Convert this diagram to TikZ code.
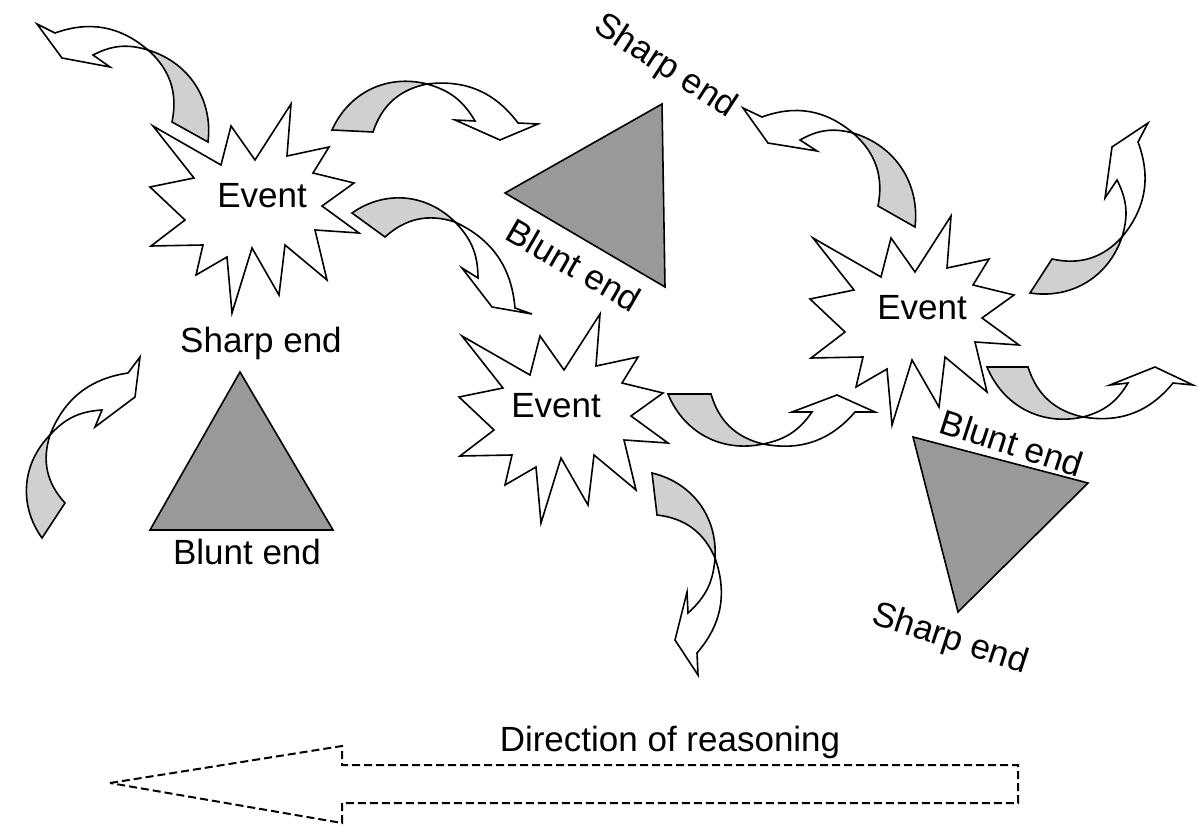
\documentclass[tikz,border=0pt]{standalone}
\usepackage{fontspec}
\setmainfont{Liberation Sans}
\definecolor{shaft}{HTML}{D0D0D0}
\definecolor{tri}{HTML}{999999}
\tikzset{
  cwA/.style={bend left=40}, cwB/.style={bend right=30},
  ccwA/.style={bend right=40}, ccwB/.style={bend left=30},
  cwC/.style={bend left=30}, cwD/.style={bend right=22},
  ccwC/.style={bend right=30}, ccwD/.style={bend left=22},
  ol/.style={draw=black,line width=1.6pt,line join=miter},
  lbl/.style={font=\fontsize{35}{40}\selectfont,inner sep=0pt}
}
% #1 cw/ccw, #2 F1(outer foot), #3 F2, #4 X, #5 Sout, #6 Wout, #7 T, #8 Win, #9 Sin
\newcommand\carr[9]{%
  \path[ol,fill=shaft] (#2) to[#1A] (#4) to[#1B] (#3) -- cycle;
  \path[ol,fill=white] (#4) to[#1C] (#5) -- (#6) -- (#7) -- (#8) -- (#9) to[#1D] (#4) -- cycle;
}
\newcommand\burst[3]{%
  \begin{scope}[shift={(#1,#2)}]
  \path[ol,fill=white] (153,126)--(221,165)--(231,126)--(255,160)--(291,104)--(287,156)--(329,147)--(313,173)--(354,183)--(322,206)--(359,233)--(315,230)--(327,280)--(285,245)--(279,295)--(252,248)--(232,313)--(227,257)--(196,275)--(203,245)--(151,246)--(185,220)--(150,187)--(194,178)--cycle;
  \end{scope}}
\begin{document}
\begin{tikzpicture}[x=1pt,y=-1pt]
\useasboundingbox (0,0) rectangle (1198,826);
% arrows
\carr{ccw}{208,142}{172,122}{148,50}{55,33}{37,24}{62,58}{110,67}{93,55}
\carr{cw}{332,130}{373,132}{427,84}{518,123}{538,124}{500,140}{455,120}{475,121}
\carr{cw}{42,538}{65,503}{50,435}{128,373}{140,357}{135,397}{95,427}{102,410}
\carr{cw}{352,213}{385,237}{455,222}{515,308}{532,314}{492,307}{462,268}{478,278}
\carr{ccw}{668,394}{711,394}{763,444}{855,412}{875,412}{837,395}{792,412}{812,412}
\carr{cw}{652,473}{657,515}{715,558}{697,653}{698,675}{675,640}{687,592}{688,613}
\carr{ccw}{915,227}{878,206}{853,133}{762,117}{743,108}{768,143}{817,151}{800,140}
\carr{ccw}{1030,293}{1052,259}{1122,237}{1138,142}{1148,123}{1112,147}{1105,198}{1117,180}
\carr{ccw}{987,367}{1028,367}{1083,417}{1173,383}{1193,385}{1155,367}{1110,385}{1128,383}
% bursts
\burst{0}{0}{e1}
\burst{309}{210}{e2}
\burst{660}{112}{e3}
\node[lbl] (e1) at (262,196) {Event};
\node[lbl] (e2) at (556,406) {Event};
\node[lbl] (e3) at (922,308) {Event};
% triangles
\path[ol,fill=tri] (240,372)--(150,530)--(333,530)--cycle;
\path[ol,fill=tri] (505,193)--(662,104)--(665,287)--cycle;
\path[ol,fill=tri] (913,437)--(1088,483)--(958,612)--cycle;
\node[lbl] (s1) at (261,343) {Sharp end};
\node[lbl] (b1) at (247,552) {Blunt end};
\node[lbl,rotate=-30] (b2) at (574,265) {Blunt end};
\node[lbl,rotate=-33] (s2) at (665,67) {Sharp end};
\node[lbl,rotate=-18] (b3) at (1012,443) {Blunt end};
\node[lbl,rotate=-18] (s3) at (950,640) {Sharp end};
% direction
\path[draw,line width=2pt,dash pattern=on 8pt off 4pt] (110,783)--(342,746)--(342,765)--(1018,765)--(1018,803)--(342,803)--(342,823)--cycle;
\node[lbl] (dir) at (670,742) {Direction of reasoning};
\end{tikzpicture}
\end{document}
